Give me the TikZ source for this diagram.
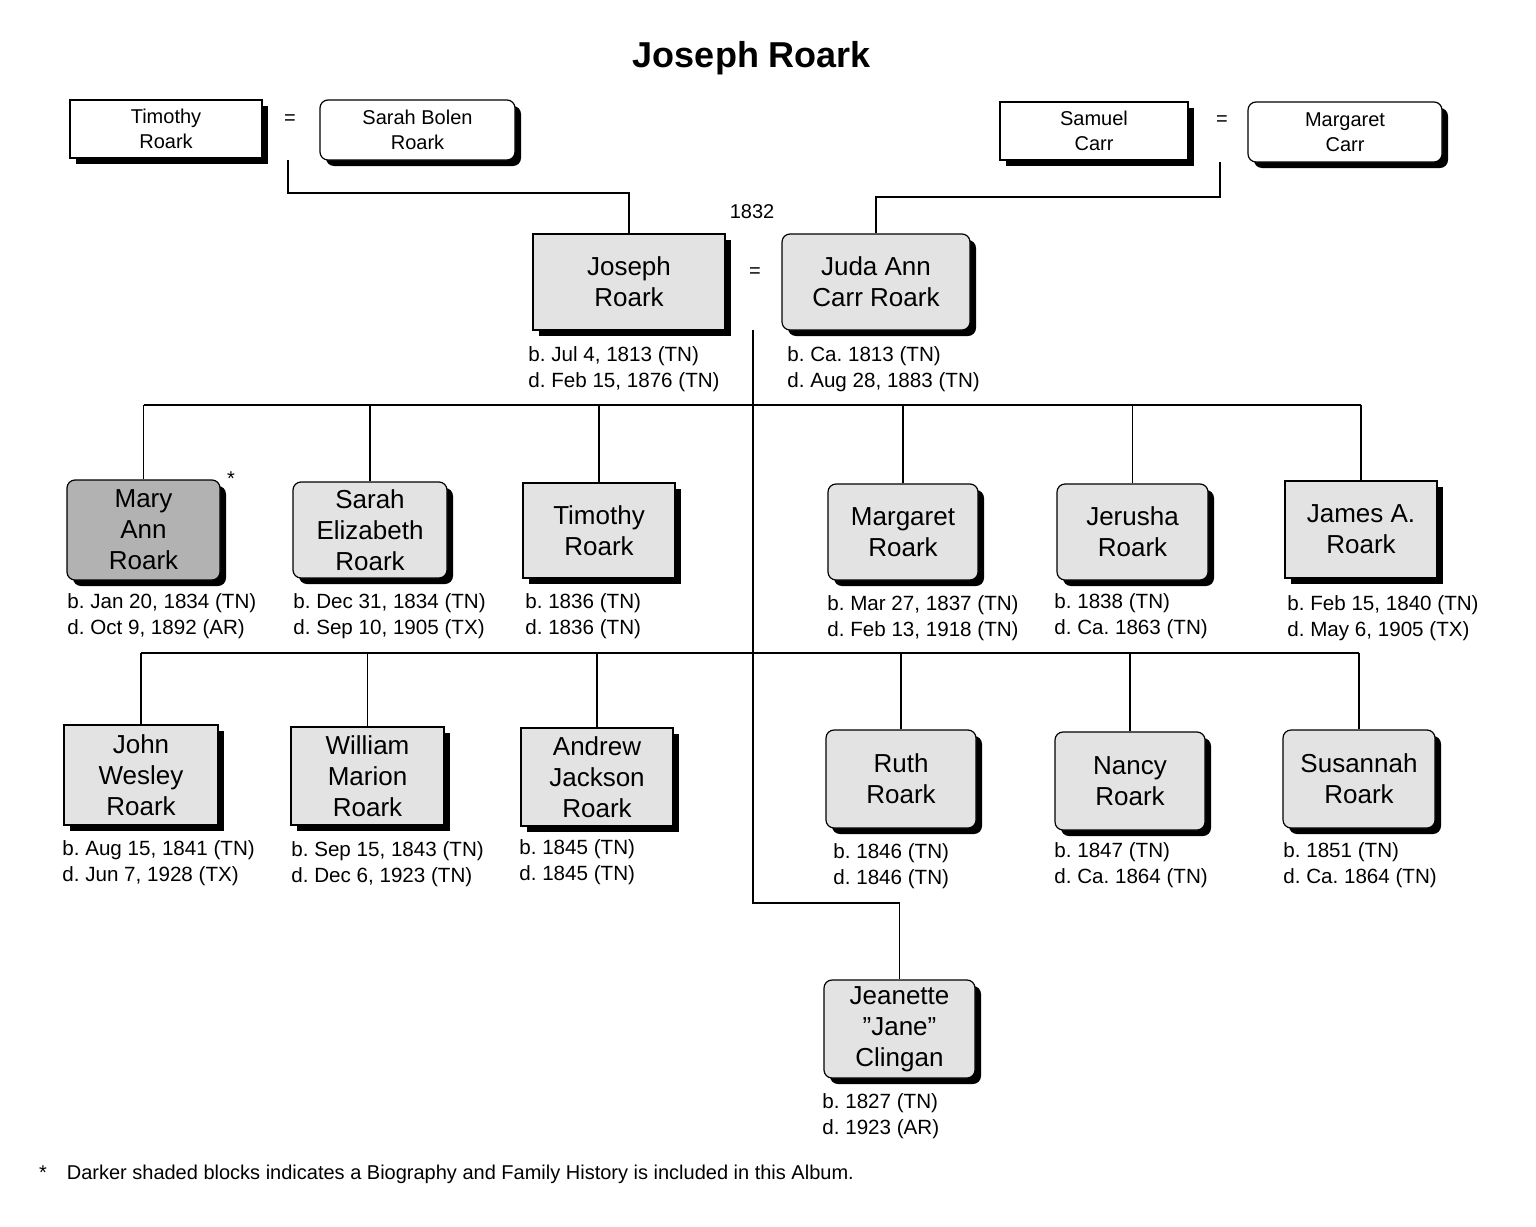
\documentclass[tikz,border=0pt]{standalone}
\usepackage{fontspec}
\setmainfont{Liberation Sans}
\usetikzlibrary{shadows}
\frenchspacing
\newcommand\pbox[7]{\node[#6, minimum width={(#4-#2)*0.5pt}, minimum height={(#5-#3)*0.5pt}] (#1) at ({(#2+#4)/2},{(#3+#5)/2}) {#7};}
\newcommand\dates[4]{\node[date] (#1) at (#2,#3) {#4};}
\begin{document}
\begin{tikzpicture}[x=0.5pt,y=-0.5pt,
  base/.style={draw=black, line width=0.6pt, align=center, inner sep=1pt,
    drop shadow={shadow xshift=3pt, shadow yshift=-3pt, fill=black, opacity=1}},
  top/.style={base, fill=white, font=\fontsize{10}{12.5}\selectfont},
  topr/.style={top, rounded corners=4pt},
  kid/.style={base, fill=gray!22, font=\fontsize{13}{15.5}\selectfont},
  kidr/.style={kid, rounded corners=4pt},
  dark/.style={kidr, fill=gray!60},
  date/.style={anchor=north west, align=left, inner sep=0pt, font=\fontsize{10.3}{13}\selectfont},
  line/.style={line width=0.8pt}]
\useasboundingbox (0,0) rectangle (1536,1226);
\node[font=\bfseries\fontsize{18}{22}\selectfont] (title) at (752,58) {Joseph Roark};
% grandparents
\pbox{tim}{70}{100}{262}{158}{top}{Timothy\\Roark}
\pbox{sbr}{320}{100}{515}{160}{topr}{Sarah Bolen\\Roark}
\pbox{sam}{1000}{102}{1188}{160}{top}{Samuel\\Carr}
\pbox{mc}{1248}{102}{1442}{162}{topr}{Margaret\\Carr}
\node[font=\fontsize{10}{12}\selectfont] (eq1) at (290,120) {=};
\node[font=\fontsize{10}{12}\selectfont] (eq2) at (1222,121) {=};
% parents
\pbox{jos}{533}{234}{725}{330}{kid}{Joseph\\Roark}
\pbox{juda}{782}{234}{970}{330}{kidr}{Juda Ann\\Carr Roark}
\node[font=\fontsize{10}{12}\selectfont] (eq3) at (755,273) {=};
\node[font=\fontsize{10}{12}\selectfont] (yr) at (752,212) {1832};
\dates{djos}{528}{346}{b. Jul 4, 1813 (TN)\\d. Feb 15, 1876 (TN)}
\dates{djuda}{787}{346}{b. Ca. 1813 (TN)\\d. Aug 28, 1883 (TN)}
\coordinate (pl) at (288,160);
\coordinate (pr) at (1220,162);
\draw[line] (pl) -- ++(0,33) -| (jos.north);
\draw[line] (pr) -- ++(0,35) -| (juda.north);
% row 1
\pbox{mary}{67}{480}{220}{580}{dark}{Mary\\Ann\\Roark}
\pbox{sarah}{293}{482}{447}{578}{kidr}{Sarah\\Elizabeth\\Roark}
\pbox{timk}{523}{483}{675}{578}{kid}{Timothy\\Roark}
\pbox{marg}{828}{484}{978}{580}{kidr}{Margaret\\Roark}
\pbox{jer}{1057}{484}{1208}{580}{kidr}{Jerusha\\Roark}
\pbox{james}{1285}{481}{1437}{578}{kid}{James A.\\Roark}
\node[font=\fontsize{10}{12}\selectfont] (ast) at (231,479) {*};
\dates{d1}{67}{593}{b. Jan 20, 1834 (TN)\\d. Oct 9, 1892 (AR)}
\dates{d2}{293}{593}{b. Dec 31, 1834 (TN)\\d. Sep 10, 1905 (TX)}
\dates{d3}{525}{593}{b. 1836 (TN)\\d. 1836 (TN)}
\dates{d4}{827}{595}{b. Mar 27, 1837 (TN)\\d. Feb 13, 1918 (TN)}
\dates{d5}{1054}{593}{b. 1838 (TN)\\d. Ca. 1863 (TN)}
\dates{d6}{1287}{595}{b. Feb 15, 1840 (TN)\\d. May 6, 1905 (TX)}
% row 2
\pbox{john}{64}{725}{218}{825}{kid}{John\\Wesley\\Roark}
\pbox{will}{291}{727}{444}{825}{kid}{William\\Marion\\Roark}
\pbox{andr}{521}{728}{673}{826}{kid}{Andrew\\Jackson\\Roark}
\pbox{ruth}{826}{730}{976}{828}{kidr}{Ruth\\Roark}
\pbox{nancy}{1055}{732}{1205}{830}{kidr}{Nancy\\Roark}
\pbox{sus}{1283}{730}{1435}{828}{kidr}{Susannah\\Roark}
\dates{e1}{62}{840}{b. Aug 15, 1841 (TN)\\d. Jun 7, 1928 (TX)}
\dates{e2}{291}{841}{b. Sep 15, 1843 (TN)\\d. Dec 6, 1923 (TN)}
\dates{e3}{519}{839}{b. 1845 (TN)\\d. 1845 (TN)}
\dates{e4}{833}{843}{b. 1846 (TN)\\d. 1846 (TN)}
\dates{e5}{1054}{842}{b. 1847 (TN)\\d. Ca. 1864 (TN)}
\dates{e6}{1283}{842}{b. 1851 (TN)\\d. Ca. 1864 (TN)}
% Jeanette
\pbox{jean}{824}{980}{975}{1078}{kidr}{Jeanette\\\char34 Jane\char34\\Clingan}
\dates{e7}{822}{1093}{b. 1827 (TN)\\d. 1923 (AR)}
% connectors
\coordinate (mv) at (753,330);
\coordinate (r1) at (753,405);
\coordinate (r2) at (753,653);
\coordinate (tn) at (753,903);
\draw[line] (mary.north |- r1) -- (james.north |- r1);
\draw[line] (john.north |- r2) -- (sus.north |- r2);
\foreach \n in {mary,sarah,timk,marg,jer,james}{\draw[line] (\n.north) -- (\n.north |- r1);}
\foreach \n in {john,will,andr,ruth,nancy,sus}{\draw[line] (\n.north) -- (\n.north |- r2);}
\draw[line] (mv) -- (tn) -| (jean.north);
\node[anchor=west, font=\fontsize{10}{12}\selectfont] (foot) at (32,1174) {*\quad Darker shaded blocks indicates a Biography and Family History is included in this Album.};
\end{tikzpicture}
\end{document}
